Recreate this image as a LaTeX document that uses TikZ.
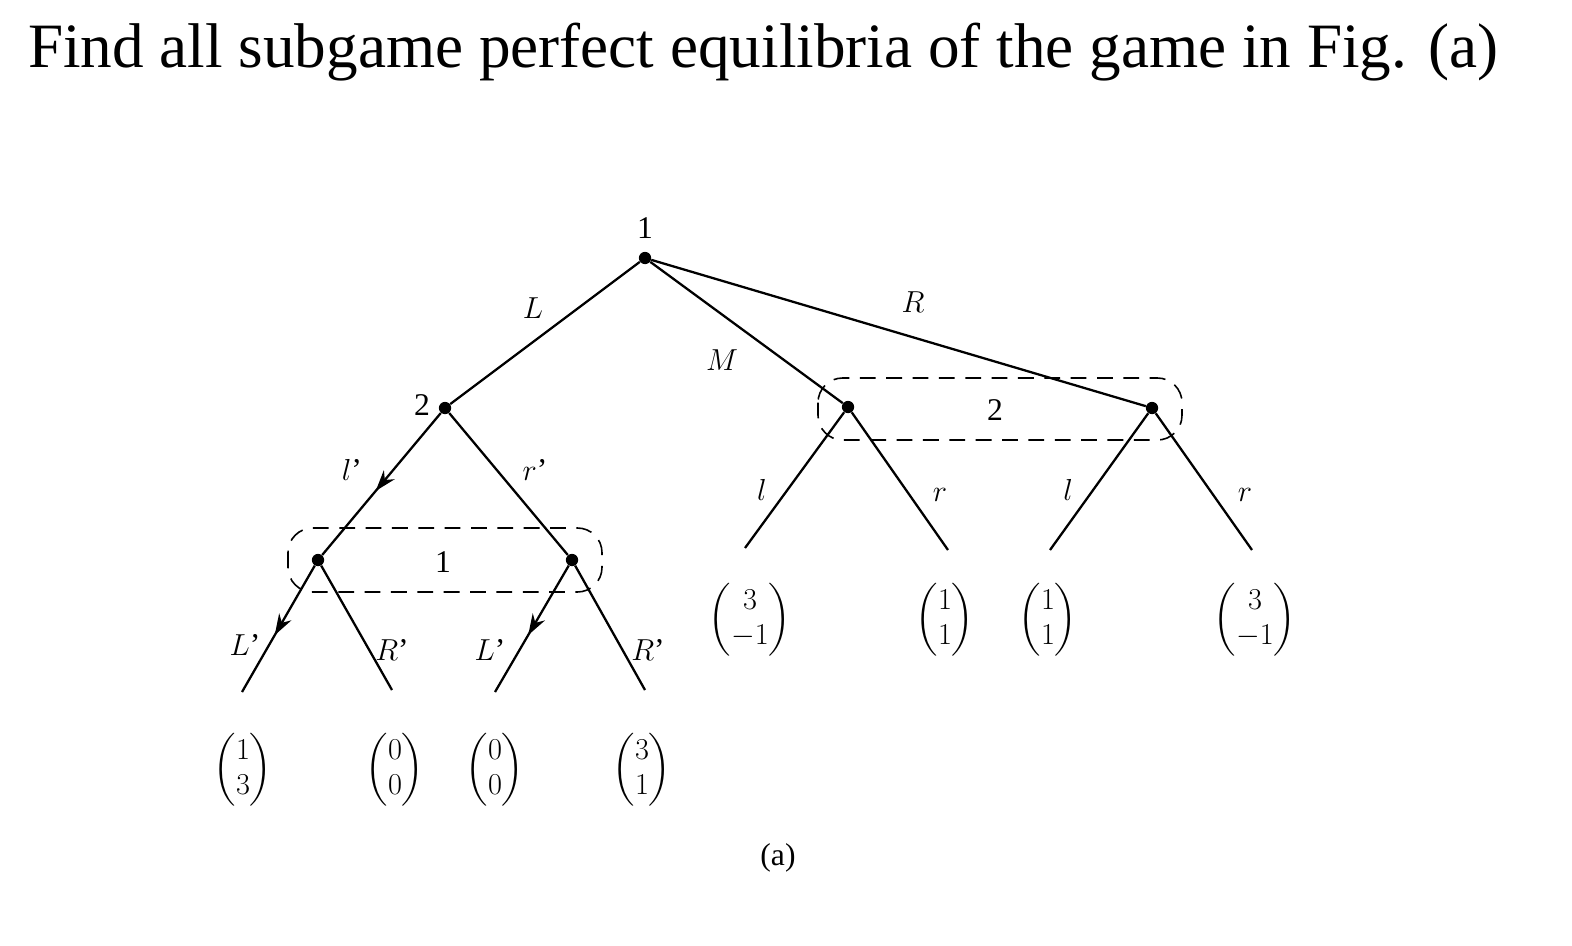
\documentclass[tikz,border=0pt]{standalone}
\usepackage{amsmath}
\usepackage{fontspec}
\setmainfont{Liberation Serif}
\usetikzlibrary{decorations.markings,arrows.meta}
\begin{document}
\begin{tikzpicture}[x=0.02cm,y=-0.02cm,
  dot/.style={circle,fill,inner sep=0pt,minimum size=7pt},
  edge/.style={line width=1.3pt},
  marked/.style={edge,postaction={decorate},decoration={markings,mark=at position 0.55 with {\arrow{Stealth[length=12pt,width=8pt]}}}},
  lbl/.style={font=\fontsize{18}{20}\selectfont},
  pay/.style={font=\fontsize{17}{20}\selectfont},
  info/.style={dashed,line width=0.9pt,rounded corners=14pt,dash pattern=on 9pt off 6pt}]
\useasboundingbox (0,0) rectangle (1572,946);
\node[anchor=west] (title) at (22,52) {\resizebox{29.4cm}{!}{Find all subgame perfect equilibria of the game in Fig. (a)}};
\node[dot] (r) at (645,258) {};
\node[lbl] (r1) at (645,228) {1};
\node[dot] (a) at (445,408) {};
\node[lbl] (a2) at (422,405) {2};
\node[dot] (m) at (848,407) {};
\node[dot] (rr) at (1152,408) {};
\node[dot] (b) at (318,560) {};
\node[dot] (c) at (572,560) {};
\draw[info] (818,378) rectangle (1182,440);
\node[lbl] (i2) at (995,410) {2};
\draw[info] (288,528) rectangle (602,592);
\node[lbl] (i1) at (443,562) {1};
\coordinate (b1) at (242,692); \coordinate (b2) at (392,690);
\coordinate (c1) at (495,692); \coordinate (c2) at (645,690);
\coordinate (m1) at (745,548); \coordinate (m2) at (948,550);
\coordinate (r1e) at (1050,550); \coordinate (r2e) at (1252,550);
\draw[edge] (r) -- (a); \draw[edge] (r) -- (m); \draw[edge] (r) -- (rr);
\draw[marked] (a) -- (b); \draw[edge] (a) -- (c);
\draw[marked] (b) -- (b1); \draw[edge] (b) -- (b2);
\draw[marked] (c) -- (c1); \draw[edge] (c) -- (c2);
\draw[edge] (m) -- (m1); \draw[edge] (m) -- (m2);
\draw[edge] (rr) -- (r1e); \draw[edge] (rr) -- (r2e);
\node[lbl] (lL) at (533,308) {$L$};
\node[lbl] (lM) at (722,360) {$M$};
\node[lbl] (lR) at (913,302) {$R$};
\node[lbl] (lp) at (352,470) {$l$'};
\node[lbl] (rp) at (535,470) {$r$'};
\node[lbl] (l1) at (762,490) {$l$};
\node[lbl] (r1l) at (940,495) {$r$};
\node[lbl] (l2) at (1068,490) {$l$};
\node[lbl] (r2l) at (1245,495) {$r$};
\node[lbl] (Lp1) at (245,645) {$L$'};
\node[lbl] (Rp1) at (392,650) {$R$'};
\node[lbl] (Lp2) at (490,650) {$L$'};
\node[lbl] (Rp2) at (648,650) {$R$'};
\node[pay] (p1) at (243,770) {$\begin{pmatrix}1\\3\end{pmatrix}$};
\node[pay] (p2) at (395,770) {$\begin{pmatrix}0\\0\end{pmatrix}$};
\node[pay] (p3) at (495,770) {$\begin{pmatrix}0\\0\end{pmatrix}$};
\node[pay] (p4) at (642,770) {$\begin{pmatrix}3\\1\end{pmatrix}$};
\node[pay] (p5) at (750,620) {$\begin{pmatrix}3\\-1\end{pmatrix}$};
\node[pay] (p6) at (945,620) {$\begin{pmatrix}1\\1\end{pmatrix}$};
\node[pay] (p7) at (1048,620) {$\begin{pmatrix}1\\1\end{pmatrix}$};
\node[pay] (p8) at (1255,620) {$\begin{pmatrix}3\\-1\end{pmatrix}$};
\node[lbl] (cap) at (778,858) {(a)};
\end{tikzpicture}
\end{document}
